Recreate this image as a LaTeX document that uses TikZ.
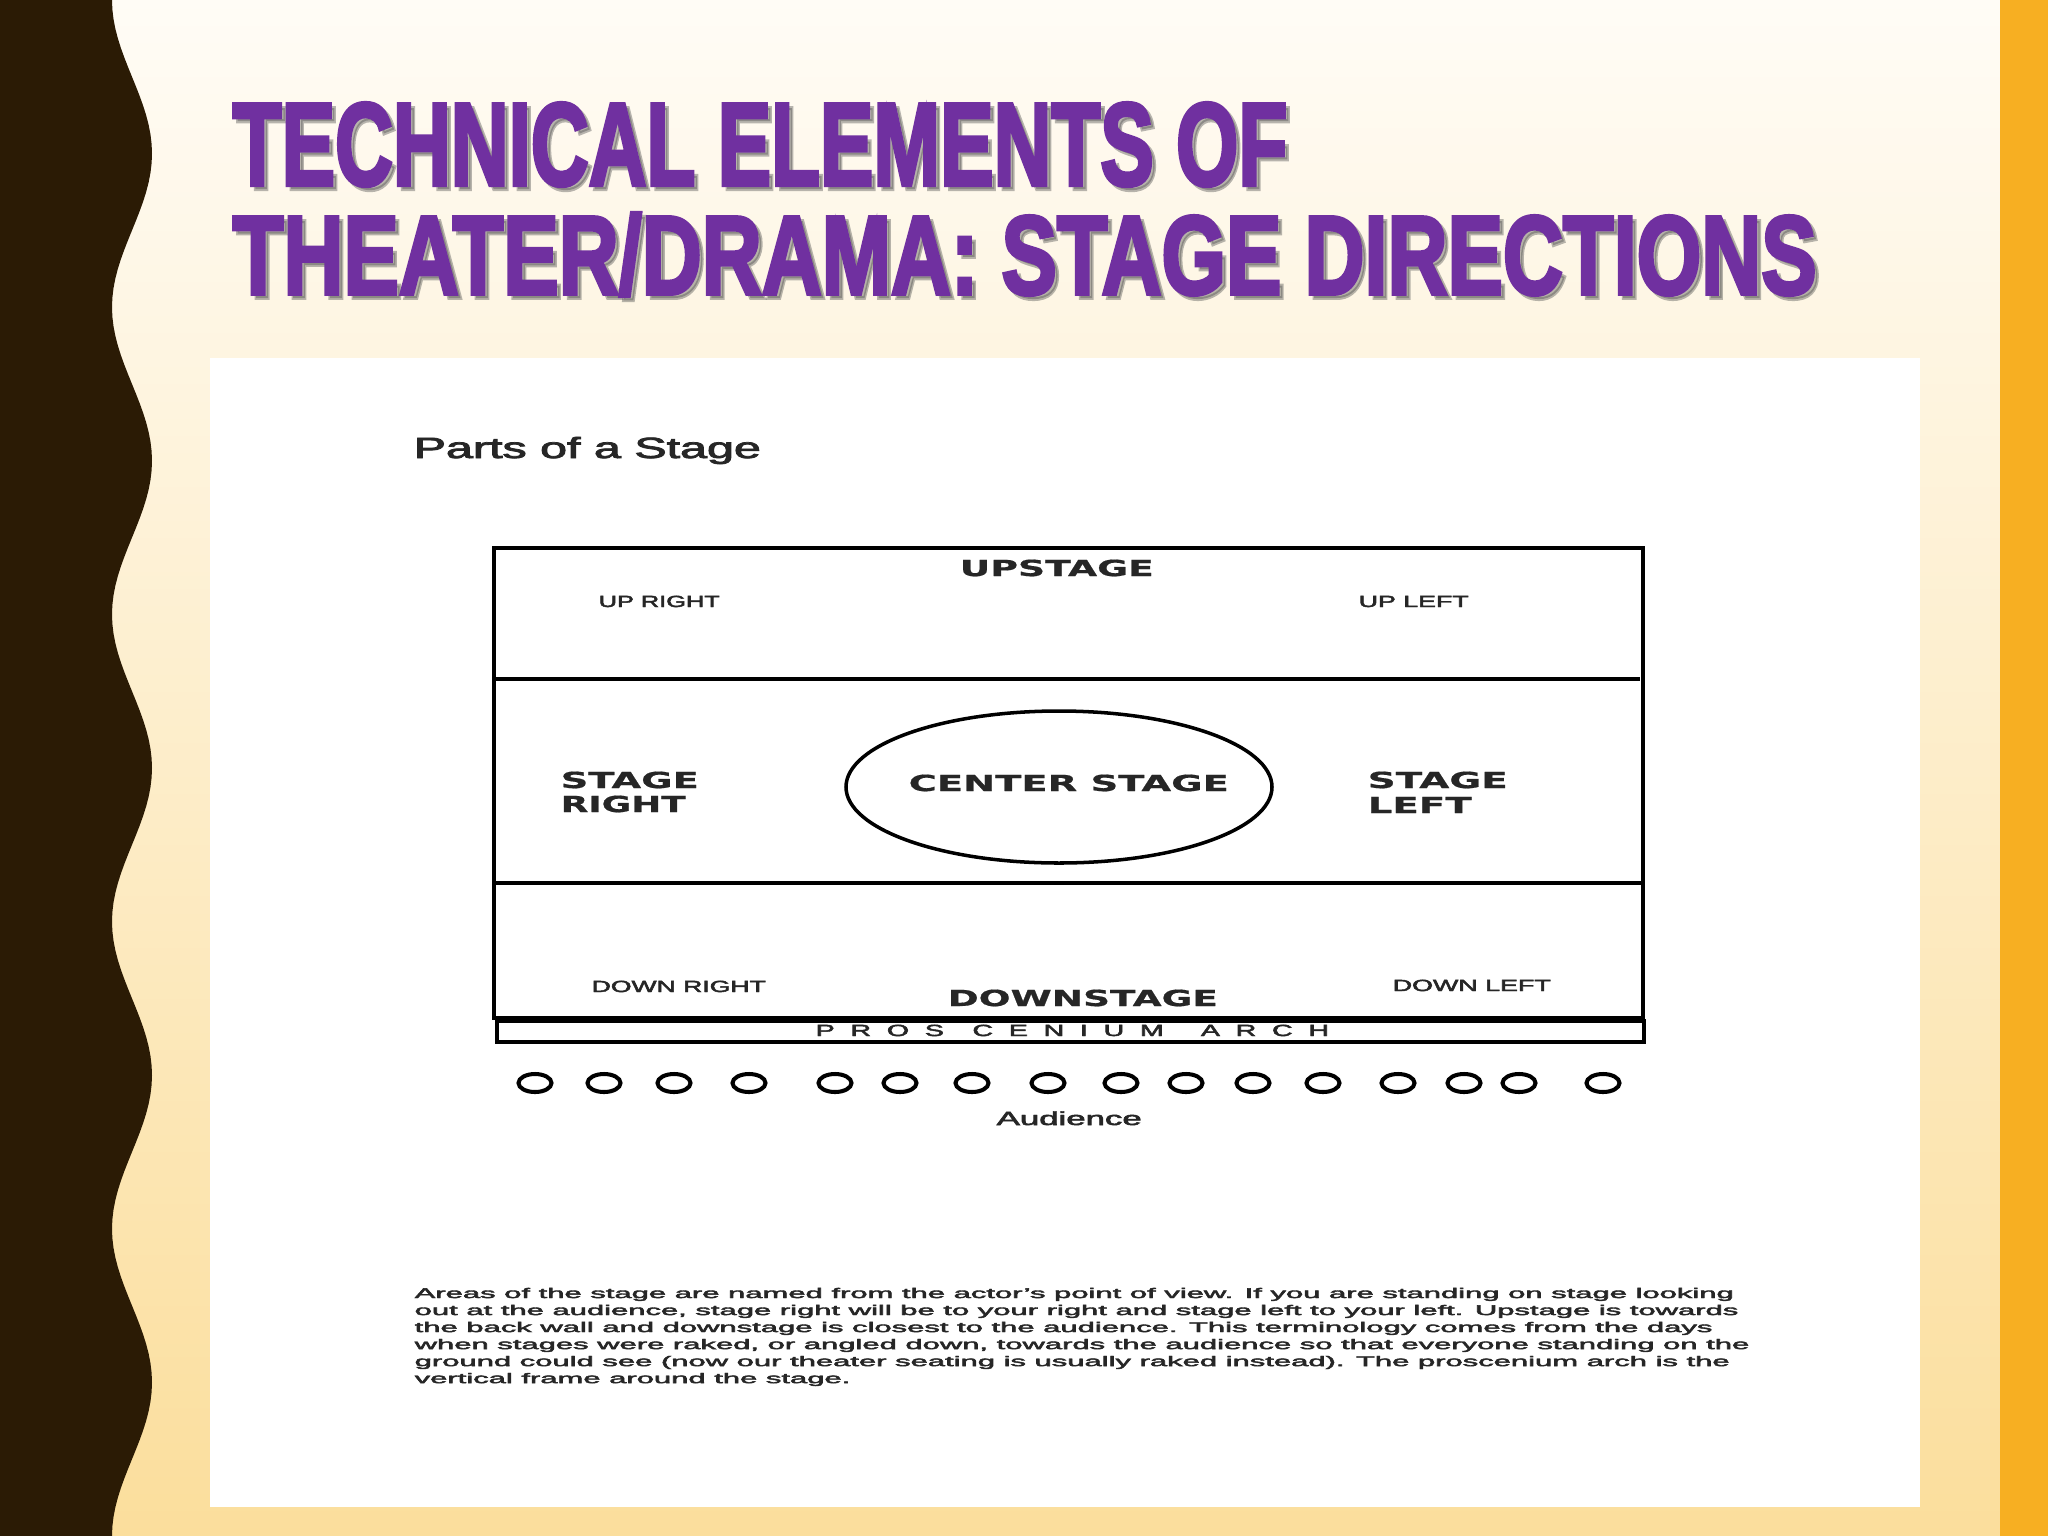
\documentclass[tikz,border=0pt]{standalone}
\usepackage{fontspec}
\usepackage{graphicx}
\usetikzlibrary{shapes.geometric}
\setmainfont{Liberation Sans}
\newfontfamily\titlefont{Liberation Sans}[FakeBold=3.5]
\newfontfamily\labelfont{Liberation Sans}[FakeBold=2.5]
\newfontfamily\dejavu{DejaVu Sans}[FakeBold=0.6]
\definecolor{bgtop}{RGB}{255,252,246}
\definecolor{bgbot}{RGB}{251,222,156}
\definecolor{wavebrown}{RGB}{43,27,5}
\definecolor{barorange}{RGB}{247,175,34}
\definecolor{titlepurple}{RGB}{112,48,160}
\newcommand{\fitw}[2]{\resizebox{#1}{\height}{#2}}
\newcommand{\fitwh}[3]{\resizebox{#1}{#2}{#3}}
\newcommand{\boldlbl}{\dejavu\bfseries\fontsize{6.3pt}{7pt}\selectfont}
\newcommand{\smalllbl}{\labelfont\fontsize{4.6pt}{5.5pt}\selectfont}
\newcommand{\gp}{\hspace{.55em}}
\begin{document}
\begin{tikzpicture}[x=0.01cm,y=-0.01cm,
        lbl/.style={anchor=base west,inner sep=0pt,text=black!85},
        boldlbl/.style={lbl,font=\boldlbl},
        smalllbl/.style={lbl,font=\smalllbl},
        titleline/.style={anchor=base west,inner sep=0pt,text=titlepurple,font=\titlefont\bfseries},
        titleshadow/.style={titleline,text=black!70,opacity=0.4},
        seat/.style={draw,ellipse,line width=1.15pt,minimum width=0.33cm,minimum height=0.18cm,inner sep=0pt}]
    \useasboundingbox (0,0) rectangle (2048,1536);
    \shade[top color=bgtop,bottom color=bgbot] (0,0) rectangle (2048,1536);
    \fill[barorange] (2000,0) rectangle (2048,1536);
    \fill[wavebrown] (0,0) -- plot[domain=0:1536,samples=161,variable=\t] ({132-20*cos(1.171875*\t)},\t) -- (0,1536) -- cycle;
    \node[titleshadow] (title1s) at (236,189) {\fitwh{10.54cm}{0.82cm}{TECHNICAL ELEMENTS OF}};
    \node[titleshadow] (title2s) at (236,298) {\fitwh{15.83cm}{0.81cm}{THEATER/DRAMA: STAGE DIRECTIONS}};
    \node[titleline] (title1) at (232,185) {\fitwh{10.54cm}{0.82cm}{TECHNICAL ELEMENTS OF}};
    \node[titleline] (title2) at (232,294) {\fitwh{15.83cm}{0.81cm}{THEATER/DRAMA: STAGE DIRECTIONS}};
    \fill[white] (210,358) rectangle (1920,1507);
    \node[lbl,font=\labelfont\fontsize{8.3pt}{10pt}\selectfont] (parts) at (413,458) {\fitw{3.47cm}{Parts of a Stage}};
    \begin{scope}[line width=1pt]
        \draw (494,548) rectangle (1643,1018);
        \draw (494,679) -- (1640,679);
        \draw (494,883) -- (1643,883);
        \draw (497,1021) rectangle (1644,1042);
        \draw (1059,787) ellipse[x radius=213,y radius=76];
    \end{scope}
    \node[boldlbl] (upstage) at (959,576) {\fitw{1.94cm}{UPSTAGE}};
    \node[smalllbl] (upright) at (598,607) {\fitw{1.21cm}{UP RIGHT}};
    \node[smalllbl] (upleft) at (1358,607) {\fitw{1.10cm}{UP LEFT}};
    \node[boldlbl] (stagerighta) at (560,788) {\fitw{1.38cm}{STAGE}};
    \node[boldlbl] (stagerightb) at (560,812) {\fitw{1.25cm}{RIGHT}};
    \node[boldlbl] (centerstage) at (908,791) {\fitw{3.20cm}{CENTER STAGE}};
    \node[boldlbl] (stagelefta) at (1367,788) {\fitw{1.40cm}{STAGE}};
    \node[boldlbl] (stageleftb) at (1367,813) {\fitw{1.04cm}{LEFT}};
    \node[smalllbl] (downright) at (591,992) {\fitw{1.74cm}{DOWN RIGHT}};
    \node[boldlbl] (downstage) at (947,1006) {\fitw{2.70cm}{DOWNSTAGE}};
    \node[smalllbl] (downleft) at (1392,991) {\fitw{1.58cm}{DOWN LEFT}};
    \node[smalllbl] (arch) at (815,1036) {\fitw{5.13cm}{P\gp R\gp O\gp S\hspace{1em}C\gp E\gp N\gp I\gp U\gp M\hspace{1.3em}A\gp R\gp C\gp H}};
    \foreach \sx [count=\i] in {535,604,674,749,835,900,972,1048,1121,1186,1253,1323,1398,1464,1519,1603}
        \node[seat] (seat\i) at (\sx,1083) {};
    \node[lbl,font=\labelfont\fontsize{5.4pt}{6.5pt}\selectfont] (audience) at (996,1125) {\fitw{1.45cm}{Audience}};
    \node[lbl,font=\labelfont\fontsize{3.98pt}{4.84pt}\selectfont] (notes) at (414,1298) {\fitw{13.34cm}{\begin{tabular}[t]{@{}l@{}}
        Areas of the stage are named from the actor’s point of view. If you are standing on stage looking\\
        out at the audience, stage right will be to your right and stage left to your left. Upstage is towards\\
        the back wall and downstage is closest to the audience. This terminology comes from the days\\
        when stages were raked, or angled down, towards the audience so that everyone standing on the\\
        ground could see (now our theater seating is usually raked instead). The proscenium arch is the\\
        vertical frame around the stage.
    \end{tabular}}};
\end{tikzpicture}
\end{document}
